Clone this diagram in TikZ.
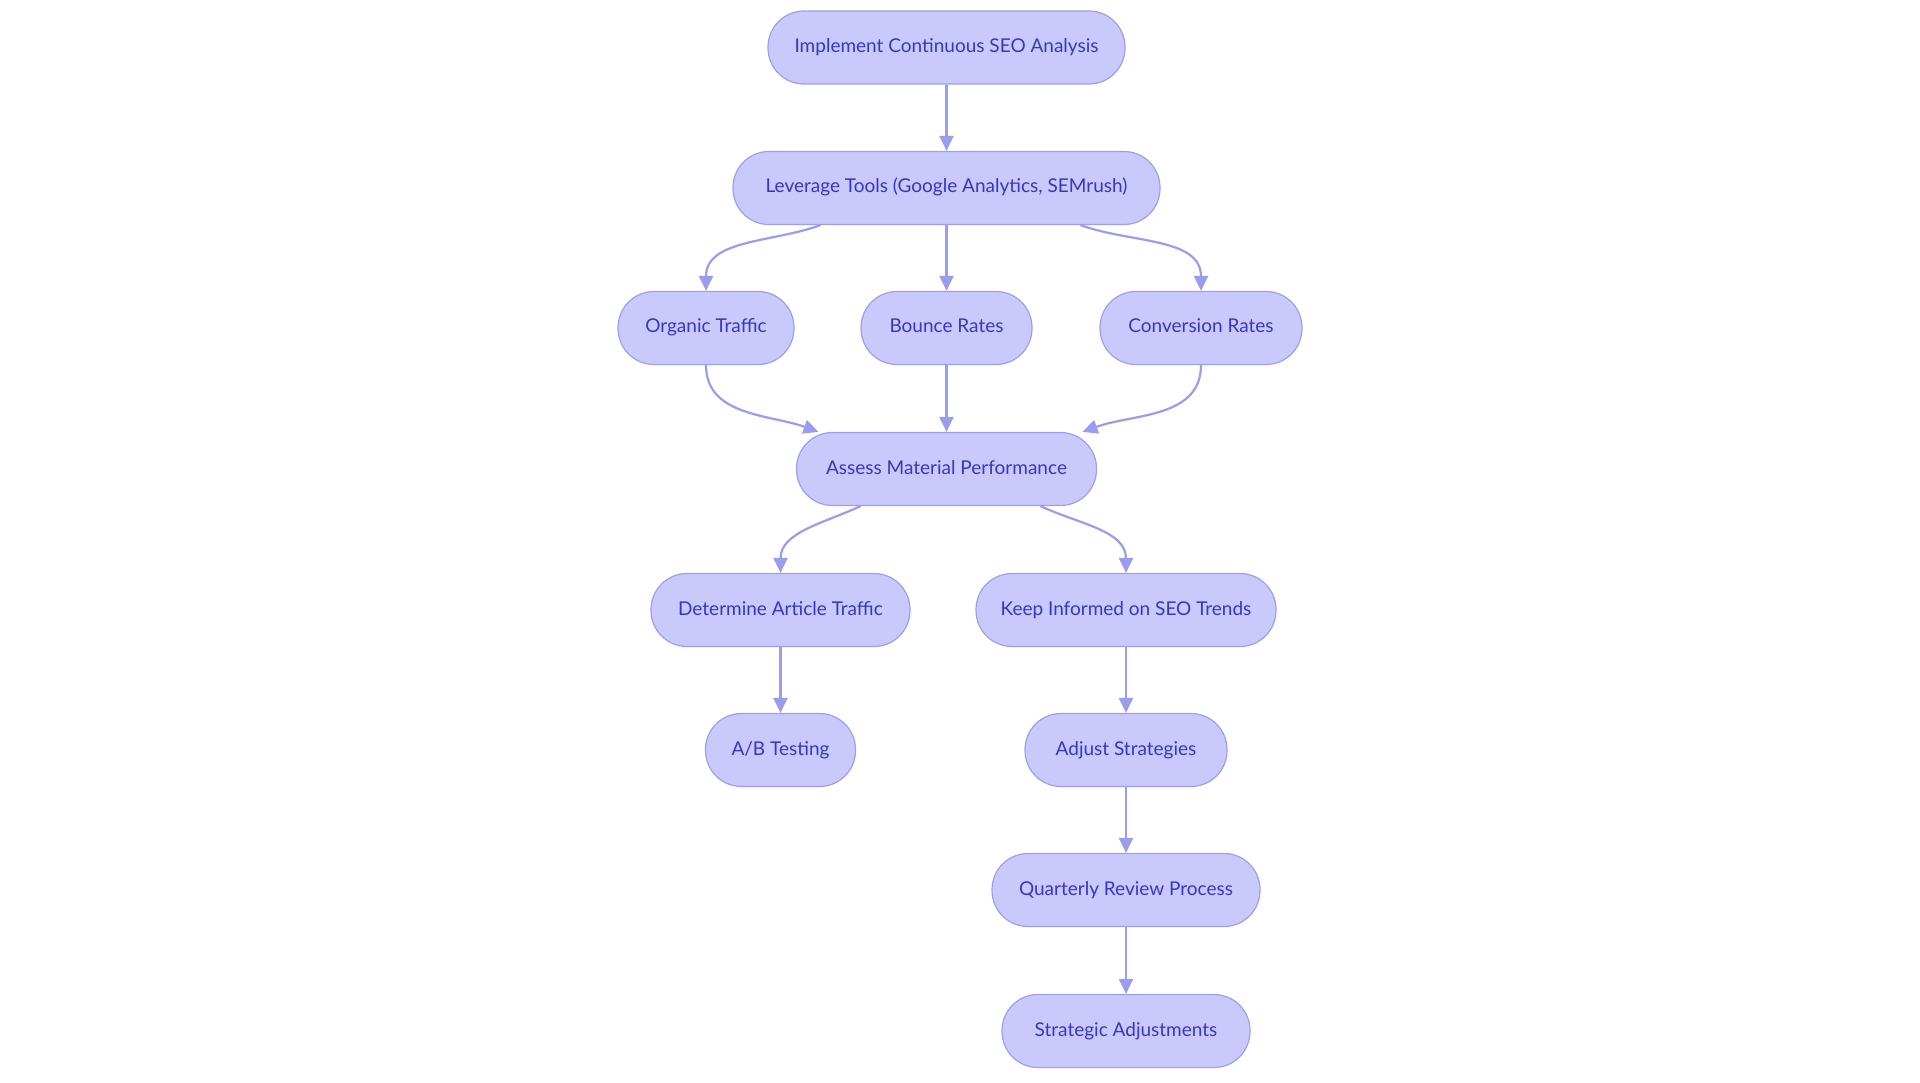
\documentclass[tikz,border=0pt]{standalone}
\usepackage{fontspec}
\setmainfont{Lato}
\usetikzlibrary{arrows.meta}

\definecolor{boxfill}{HTML}{C9CAFB}
\definecolor{boxline}{HTML}{9C9EF0}
\definecolor{boxtext}{HTML}{3636C8}
\definecolor{flowline}{HTML}{9A9CEE}

\tikzset{
  stage/.style={draw=boxline, fill=boxfill, line width=1.2pt, rounded corners=36pt,
    minimum height=73pt, inner xsep=0pt, text=boxtext, text height=13.5pt, text depth=3.5pt,
    font=\fontsize{19}{22}\selectfont},
  flow/.style={draw=flowline, line width=2.2pt, -{Triangle[length=15pt,width=14pt]}}
}

\begin{document}
\begin{tikzpicture}[x=1pt,y=-1pt]
  \useasboundingbox (0,0) rectangle (1920,1083);
  % nodes
  \node[stage, minimum width=357pt] (impl) at (946.5,47.5) {Implement Continuous SEO Analysis};
  \node[stage, minimum width=427pt] (tools) at (946.5,188) {Leverage Tools (Google Analytics, SEMrush)};
  \node[stage, minimum width=176pt] (organic) at (706,328) {Organic Traffic};
  \node[stage, minimum width=171pt] (bounce) at (946.5,328) {Bounce Rates};
  \node[stage, minimum width=202pt] (conv) at (1201,328) {Conversion Rates};
  \node[stage, minimum width=300pt] (assess) at (946.5,469) {Assess Material Performance};
  \node[stage, minimum width=259pt] (article) at (780.5,610) {Determine Article Traffic};
  \node[stage, minimum width=300pt] (trends) at (1126,610) {Keep Informed on SEO Trends};
  \node[stage, minimum width=150pt] (abtest) at (780.5,750) {A/B Testing};
  \node[stage, minimum width=202pt] (adjust) at (1126,750) {Adjust Strategies};
  \node[stage, minimum width=268pt] (review) at (1126,890) {Quarterly Review Process};
  \node[stage, minimum width=248pt] (stratadj) at (1126,1031) {Strategic Adjustments};

  % connectors
  \draw[flow] (impl) -- (tools);
  \draw[flow] ([xshift=-126pt]tools.south) to[out=-160,in=90] (organic.north);
  \draw[flow] (tools) -- (bounce);
  \draw[flow] ([xshift=134pt]tools.south) to[out=-20,in=90] (conv.north);
  \draw[flow] (organic.south) to[out=-90,in=160] ([xshift=-128pt]assess.north);
  \draw[flow] (bounce) -- (assess);
  \draw[flow] (conv.south) to[out=-90,in=20] ([xshift=136pt]assess.north);
  \draw[flow] ([xshift=-86pt]assess.south) to[out=-155,in=90] (article.north);
  \draw[flow] ([xshift=94pt]assess.south) to[out=-25,in=90] (trends.north);
  \draw[flow] (article) -- (abtest);
  \draw[flow] (trends) -- (adjust);
  \draw[flow] (adjust) -- (review);
  \draw[flow] (review) -- (stratadj);
\end{tikzpicture}
\end{document}
